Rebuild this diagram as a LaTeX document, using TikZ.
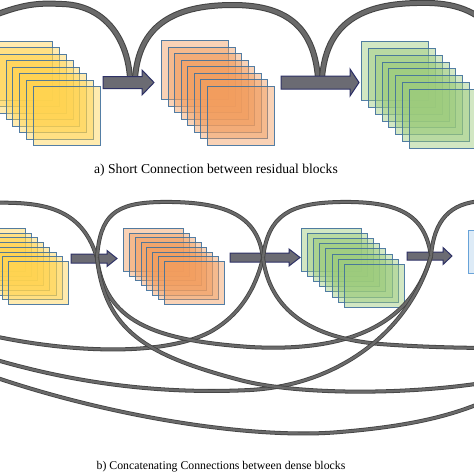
\documentclass[tikz,border=0pt]{standalone}
\usepackage{fontspec}
\setmainfont{Liberation Serif}
\definecolor{yel}{HTML}{FFD34F}
\definecolor{ora}{HTML}{F29D5E}
\definecolor{gre}{HTML}{9CCB7C}
\definecolor{bor}{HTML}{41719C}
\definecolor{bluefill}{HTML}{DDEBF7}
\definecolor{blueline}{HTML}{5B9BD5}
\definecolor{arrfill}{HTML}{6B6B73}
\definecolor{arrline}{HTML}{2E3166}
\definecolor{curvecore}{HTML}{6A6A6A}
\definecolor{curveedge}{HTML}{434343}
\newcommand\blockarrow[6]{%
  \draw[arrowst] (#1,#3-#4) -- (#6,#3-#4) -- (#6,#3-#5) -- (#2,#3) -- (#6,#3+#5) -- (#6,#3+#4) -- (#1,#3+#4) -- cycle;}
\begin{document}
\begin{tikzpicture}[x=1pt,y=-1pt,
  layer/.style={draw=bor, line width=0.7pt, fill opacity=0.45, draw opacity=0.9, anchor=north west, inner sep=0pt},
  tbox/.style={layer, minimum width=67pt, minimum height=59pt},
  bbox/.style={layer, minimum width=60pt, minimum height=43pt},
  arrowst/.style={draw=arrline, line width=1pt, fill=arrfill, line join=miter},
  topcurve/.style={draw=curveedge, double=curvecore, line width=1pt, double distance=4pt},
  botcurve/.style={draw=curveedge, double=curvecore, line width=0.8pt, double distance=2.4pt},
  caption/.style={inner sep=0pt, text=black}]
\useasboundingbox (0,0) rectangle (474,474);
\clip (0,0) rectangle (474,474);
\fill[white] (0,0) rectangle (474,474);

% ---------- panel a ----------
\foreach \i in {0,...,7} \node[tbox, fill=yel] (ay\i) at ({-15+\i*6.86},{41+\i*6.43}) {};
\foreach \i in {0,...,7} \node[tbox, fill=ora] (ao\i) at ({161+\i*6.57},{40+\i*6.57}) {};
\foreach \i in {0,...,7} \node[tbox, fill=gre] (ag\i) at ({361+\i*6.86},{41+\i*6.86}) {};

\coordinate (L0) at (-10,17);
\coordinate (T1a) at (130,78);
\coordinate (T1b) at (135,78);
\coordinate (T2a) at (318,78);
\coordinate (T2b) at (322,78);
\coordinate (R0) at (492,28);
\draw[topcurve] (L0) .. controls (25,3) and (40,3) .. (62,4) .. controls (102,5) and (127,35) .. (T1a);
\draw[topcurve] (T1b) .. controls (139,28) and (170,5) .. (233,5) .. controls (290,5) and (314,30) .. (T2a);
\draw[topcurve] (T2b) .. controls (326,28) and (355,4) .. (417,3) .. controls (450,2) and (472,8) .. (R0);

\blockarrow{103}{154}{82.5}{6}{12.5}{142}
\blockarrow{281}{359}{82.5}{6.5}{13.5}{350}

\node[caption, font=\fontsize{13.6}{16}\selectfont] (capa) at (216,170) {a) Short Connection between residual blocks};

% ---------- panel b ----------
\foreach \i in {0,...,7} \node[bbox, fill=yel] (by\i) at ({-35+\i*6.1},{228+\i*4.7}) {};
\foreach \i in {0,...,7} \node[bbox, fill=ora] (bo\i) at ({123+\i*5.86},{228+\i*4.7}) {};
\foreach \i in {0,...,7} \node[bbox, fill=gre] (bg\i) at ({301+\i*6.1},{228+\i*5.1}) {};
\node[bbox, fill=bluefill, fill opacity=1, draw=blueline] (bb0) at (468,230) {};

\blockarrow{71}{117}{258.5}{4.5}{8}{107}
\blockarrow{230}{300}{257.5}{4.5}{8.5}{289}
\blockarrow{407}{452}{256}{4}{8.5}{443}

\coordinate (X1) at (97,258);
\coordinate (X2) at (263,258);
\coordinate (X3) at (431,256);
\coordinate (W0) at (-20,203);
\coordinate (W1) at (-20,333);
\coordinate (W2) at (-20,355);
\coordinate (W3) at (-20,372);
\coordinate (E0) at (482,201);
\coordinate (E1) at (500,348);
\coordinate (E2) at (500,380);
\coordinate (E3) at (492,398);

% one-step (over the top)
\draw[botcurve] (W0) .. controls (30,202) and (80,200) .. (X1);
\draw[botcurve] (X1) .. controls (100,215) and (115,203) .. (160,202) .. controls (225,201) and (258,215) .. (X2);
\draw[botcurve] (X2) .. controls (268,215) and (290,203) .. (340,202) .. controls (400,201) and (425,215) .. (X3);
\draw[botcurve] (X3) .. controls (434,220) and (450,203) .. (E0);
% two-step
\draw[botcurve] (W1) .. controls (60,352) and (160,358) .. (210,332) .. controls (240,315) and (255,290) .. (X2);
\draw[botcurve] (X1) .. controls (105,320) and (150,340) .. (250,347) .. controls (340,352) and (410,330) .. (X3);
\draw[botcurve] (X2) .. controls (270,310) and (310,338) .. (380,344) .. controls (420,347) and (460,348) .. (E1);
% three-step
\draw[botcurve] (W2) .. controls (60,380) and (150,395) .. (250,390) .. controls (340,385) and (410,330) .. (X3);
\draw[botcurve] (X1) .. controls (105,330) and (145,355) .. (240,380) .. controls (300,396) and (420,395) .. (E2);
% four-step
\draw[botcurve] (W3) .. controls (100,415) and (250,440) .. (340,432) .. controls (400,427) and (450,418) .. (E3);

\node[caption, font=\fontsize{11.8}{14}\selectfont] (capb) at (221,467) {b) Concatenating Connections between dense blocks};
\end{tikzpicture}
\end{document}
